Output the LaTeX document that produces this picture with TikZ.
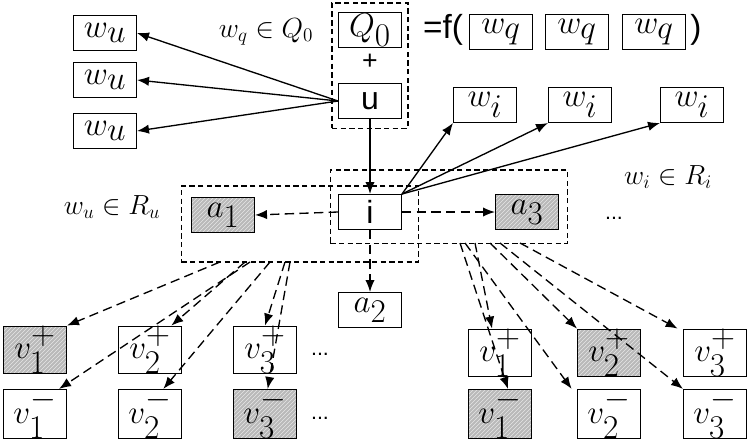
\documentclass[tikz,border=0pt]{standalone}
\usepackage{amsmath}
\usepackage{fontspec}
\setsansfont{Liberation Sans}
\usetikzlibrary{patterns,arrows.meta}
\begin{document}
\begin{tikzpicture}[x=0.75pt,y=-0.75pt,
    box/.style={draw,line width=1pt,minimum width=47pt,minimum height=26pt,inner sep=0pt,font=\fontsize{36}{36}\selectfont},
    sbox/.style={box,font=\fontsize{24}{24}\selectfont\sffamily},
    hatch/.style={preaction={fill=gray!55},pattern=north east lines,pattern color=white!80!gray},
    lbl/.style={font=\fontsize{21}{21}\selectfont},
    dts/.style={font=\fontsize{16}{16}\selectfont\sffamily},
    arr/.style={line width=1pt,-{Latex[length=9pt,width=7pt]}},
    darr/.style={arr,dash pattern=on 7pt off 4pt},
    grp/.style={draw,line width=1pt,dash pattern=on 4pt off 2.5pt}]
\useasboundingbox (0,0) rectangle (748,439);
% user side
\node[box] (wu1) at (105,33) {$w_u$};
\node[box] (wu2) at (105,80) {$w_u$};
\node[box] (wu3) at (105,131) {$w_u$};
\node[box] (q0) at (370,30) {$Q_0$};
\node[font=\fontsize{20}{20}\selectfont\sffamily] (plus) at (370,62) {+};
\node[sbox] (u) at (370,101) {u};
\node[grp,minimum width=57pt,minimum height=94pt] (ug) at (370,65.5) {};
\node[lbl] (wq) at (266,32) {$w_q \in Q_0$};
\node[font=\fontsize{25}{25}\selectfont\sffamily] (f) at (443,30) {=f(};
\node[box] (wq1) at (501,32) {$w_q$};
\node[box] (wq2) at (577,32) {$w_q$};
\node[box] (wq3) at (654,32) {$w_q$};
\node[font=\fontsize{25}{25}\selectfont\sffamily] (rp) at (696,30) {)};
% item side
\node[box] (wi1) at (485,105) {$w_i$};
\node[box] (wi2) at (580,105) {$w_i$};
\node[box] (wi3) at (692,105) {$w_i$};
\node[lbl] (ri) at (668,177) {$w_i \in R_i$};
\node[dts] (dots0) at (614,218) {...};
\node[sbox] (i) at (370,212) {i};
\node[box,hatch] (a1) at (223,215) {$a_1$};
\node[box,hatch] (a3) at (527,212) {$a_3$};
\node[box] (a2) at (370,310) {$a_2$};
\node[lbl] (ru) at (112,207) {$w_u \in R_u$};
\node[grp,minimum width=178pt,minimum height=57pt] (g1) at (300,224) {};
\node[grp,minimum width=178pt,minimum height=55pt] (g2) at (449,206.5) {};
% left v
\node[box,hatch] (l1p) at (35,350) {$v_1^+$};
\node[box] (l2p) at (150,350) {$v_2^+$};
\node[box] (l3p) at (265,350) {$v_3^+$};
\node[box] (l1m) at (35,414) {$v_1^-$};
\node[box] (l2m) at (150,414) {$v_2^-$};
\node[box,hatch] (l3m) at (265,414) {$v_3^-$};
\node[dts] (ld1) at (320,354) {...};
\node[dts] (ld2) at (320,418) {...};
% right v
\node[box] (r1p) at (500,353) {$v_1^+$};
\node[box,hatch] (r2p) at (609,353) {$v_2^+$};
\node[box] (r3p) at (715,353) {$v_3^+$};
\node[box,hatch] (r1m) at (500,414) {$v_1^-$};
\node[box] (r2m) at (609,414) {$v_2^-$};
\node[box] (r3m) at (715,414) {$v_3^-$};
% solid arrows
\draw[arr] (u.west) -- (wu1.east);
\draw[arr] (u.west) -- (wu2.east);
\draw[arr] (u.west) -- (wu3.east);
\draw[arr] (u.south) -- (i.north);
\draw[arr] (i.north east) -- (wi1.south west);
\draw[arr] (i.north east) -- (wi2.south west);
\draw[arr] (i.north east) -- (wi3.south west);
% dashed arrows
\draw[darr] (i.west) -- (a1.east);
\draw[darr] (i.east) -- (a3.west);
\draw[darr] (i.south) -- (a2.north);
\coordinate (b1) at (220,262);
\coordinate (b2) at (245,262);
\coordinate (b3) at (250,262);
\coordinate (b4) at (270,262);
\coordinate (b5) at (285,262);
\coordinate (b6) at (290,262);
\draw[darr] (b1) -- (l1p.north east);
\draw[darr] (b2) -- ([xshift=-8pt]l2p.north east);
\draw[darr] (b3) -- ([xshift=18pt]l1m.north);
\draw[darr] (b4) -- ([xshift=10pt]l2m.north);
\draw[darr] (b5) -- (l3p.north);
\draw[darr] (b6) -- ([xshift=2pt]l3m.north);
\coordinate (c1) at (460,243);
\coordinate (c2) at (465,243);
\coordinate (c3) at (475,243);
\coordinate (c4) at (490,243);
\coordinate (c5) at (500,243);
\coordinate (c6) at (520,243);
\draw[darr] (c1) -- ([xshift=6pt]r1m.north);
\draw[darr] (c2) -- ([xshift=-4pt]r2m.north west);
\draw[darr] (c3) -- ([xshift=-6pt]r1p.north);
\draw[darr] (c4) -- (r2p.north west);
\draw[darr] (c5) -- (r3m.north west);
\draw[darr] (c6) -- ([xshift=-4pt]r3p.north west);
\end{tikzpicture}
\end{document}
